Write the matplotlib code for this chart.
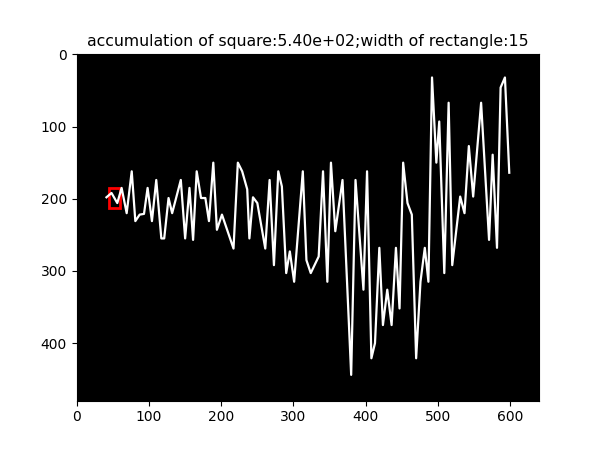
import numpy as np
import matplotlib
matplotlib.use("Agg")
import matplotlib.pyplot as plt
from matplotlib.patches import Rectangle

xs = [41,48,56,62,69,76,81,87,93,98,104,110,117,121,127,132,144,150,156,161,166,172,178,183,189,194,201,217,223,229,236,239,244,250,261,267,273,279,284,290,295,301,313,
      318,324,335,341,347,352,358,368,380,386,397,402,408,413,419,424,430,436,442,447,452,458,464,470,476,482,487,492,498,502,509,515,520,531,537,543,549,560,571,576,582,587,593,599]
ys = [198,192,206,185,220,162,231,222,221,185,231,174,255,255,199,220,174,255,185,257,162,199,199,231,150,243,222,269,150,162,187,255,198,206,269,174,292,162,183,303,273,315,162,
      285,303,280,162,315,150,245,174,444,174,326,162,421,400,268,375,326,375,268,352,150,206,222,421,315,268,315,32,150,93,303,67,292,197,220,127,197,67,257,139,268,46,32,164]
rect_x, rect_y, rect_w, rect_h = 45, 185, 15, 28
title = "accumulation of square:5.40e+02;width of rectangle:15"

fig = plt.figure(figsize=(6, 4.5), dpi=100)
ax = fig.add_subplot(111)
ax.imshow(np.zeros((480, 640)), cmap="gray", vmin=0, vmax=1)
ax.plot(xs, ys, color="white", lw=1.6)
ax.add_patch(Rectangle((rect_x, rect_y), rect_w, rect_h, fill=False, edgecolor="red", lw=2))
ax.set_title(title, fontsize=11.3)
fig.savefig("out.png")
